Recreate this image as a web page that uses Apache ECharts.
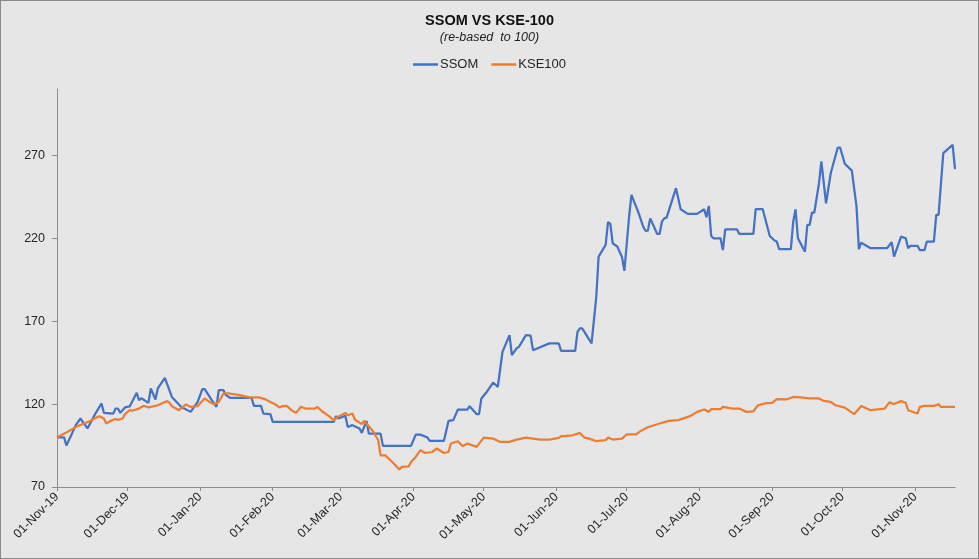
<!DOCTYPE html>
<html>
<head>
<meta charset="utf-8">
<script src="https://cdn.jsdelivr.net/npm/echarts@6/dist/echarts.min.js"></script>
<style>
  html, body { margin: 0; padding: 0; background: #E7E6E6; }
  #chart {
    width: 977px;
    height: 557px;
    border: 1px solid #8a8a8a;
    background: #E7E6E6;
  }
</style>
</head>
<body>
<div id="chart"></div>
<script>
// month-start ticks on the date axis
const monthTicks = [
  '2019-11-01', '2019-12-01', '2020-01-01', '2020-02-01', '2020-03-01', '2020-04-01', '2020-05-01',
  '2020-06-01', '2020-07-01', '2020-08-01', '2020-09-01', '2020-10-01', '2020-11-01'
];
const yTicks = [70, 120, 170, 220, 270];

const ssomDates = [
  '2019-11-01', '2019-11-04', '2019-11-05', '2019-11-07', '2019-11-09', '2019-11-11', '2019-11-14', '2019-11-17',
  '2019-11-20', '2019-11-21', '2019-11-25', '2019-11-26', '2019-11-27', '2019-11-28', '2019-11-30', '2019-12-02',
  '2019-12-05', '2019-12-06', '2019-12-07', '2019-12-10', '2019-12-11', '2019-12-13', '2019-12-14', '2019-12-17',
  '2019-12-20', '2019-12-24', '2019-12-28', '2019-12-31', '2020-01-02', '2020-01-03', '2020-01-06', '2020-01-08',
  '2020-01-09', '2020-01-11', '2020-01-12', '2020-01-14', '2020-01-23', '2020-01-24', '2020-01-27', '2020-01-28',
  '2020-01-31', '2020-02-01', '2020-02-27', '2020-02-28', '2020-02-29', '2020-03-03', '2020-03-04', '2020-03-06',
  '2020-03-09', '2020-03-10', '2020-03-12', '2020-03-13', '2020-03-18', '2020-03-19', '2020-03-31', '2020-04-02',
  '2020-04-04', '2020-04-07', '2020-04-08', '2020-04-14', '2020-04-16', '2020-04-18', '2020-04-20', '2020-04-24',
  '2020-04-25', '2020-04-28', '2020-04-29', '2020-04-30', '2020-05-02', '2020-05-05', '2020-05-07', '2020-05-09',
  '2020-05-12', '2020-05-13', '2020-05-15', '2020-05-16', '2020-05-19', '2020-05-21', '2020-05-22', '2020-05-29',
  '2020-06-02', '2020-06-03', '2020-06-09', '2020-06-10', '2020-06-11', '2020-06-12', '2020-06-16', '2020-06-18',
  '2020-06-19', '2020-06-22', '2020-06-23', '2020-06-24', '2020-06-25', '2020-06-27', '2020-06-29', '2020-06-30',
  '2020-07-02', '2020-07-03', '2020-07-06', '2020-07-08', '2020-07-09', '2020-07-10', '2020-07-11', '2020-07-14',
  '2020-07-15', '2020-07-16', '2020-07-17', '2020-07-18', '2020-07-22', '2020-07-24', '2020-07-27', '2020-07-31',
  '2020-08-03', '2020-08-04', '2020-08-05', '2020-08-06', '2020-08-07', '2020-08-10', '2020-08-11', '2020-08-12',
  '2020-08-17', '2020-08-18', '2020-08-24', '2020-08-25', '2020-08-28', '2020-08-31', '2020-09-02', '2020-09-03',
  '2020-09-04', '2020-09-09', '2020-09-10', '2020-09-11', '2020-09-12', '2020-09-15', '2020-09-16', '2020-09-17',
  '2020-09-18', '2020-09-19', '2020-09-21', '2020-09-22', '2020-09-24', '2020-09-26', '2020-09-29', '2020-09-30',
  '2020-10-02', '2020-10-05', '2020-10-07', '2020-10-08', '2020-10-09', '2020-10-13', '2020-10-20', '2020-10-22',
  '2020-10-23', '2020-10-26', '2020-10-28', '2020-10-29', '2020-10-30', '2020-11-02', '2020-11-03', '2020-11-05',
  '2020-11-06', '2020-11-09', '2020-11-10', '2020-11-11', '2020-11-13', '2020-11-17', '2020-11-18'
];
const ssomValues = [
  100, 100, 95, 101, 107.3, 111.3, 105.3, 113.3,
  120.4, 114.7, 114.3, 117.3, 117.3, 114.7, 118, 118.6,
  126.8, 122.4, 123.5, 120.7, 129.4, 122.8, 129.4, 135.8,
  124.3, 118.3, 115.3, 121.3, 129, 129, 122.4, 118.3,
  128.4, 128.4, 125.4, 123.7, 123.7, 118.9, 118.9, 114.3,
  113.9, 109.3, 109.3, 112.7, 111.3, 113, 106.2, 107.3,
  105.3, 102.6, 109.9, 102.2, 102.2, 94.8, 94.8, 101.6,
  101.6, 99.8, 97.8, 97.8, 109.9, 110.3, 116.7, 116.7,
  118.7, 113.9, 113.9, 123.4, 126.8, 133, 130.4, 151.5,
  161.6, 149.5, 153.6, 154.5, 161.6, 161.3, 152.5, 156.6,
  156.6, 152.1, 152.1, 163.6, 165.6, 165.6, 156.6, 184.7,
  208.9, 216, 229.7, 228.6, 217, 214.9, 208.5, 200.4,
  233, 246.2, 235.5, 227, 224.5, 224.6, 232, 222.6,
  222.6, 230, 232, 232.4, 250.2, 237.5, 234.7, 234.7,
  237.5, 232.7, 239.5, 221.4, 220, 220, 212.9, 225.4,
  225.4, 222.6, 222.6, 237.5, 237.5, 221.4, 218.6, 218,
  213.4, 213.4, 230, 237.5, 220, 211.9, 228, 228,
  235.5, 235.5, 253.2, 266.3, 241.1, 259.2, 274.7, 274.7,
  264.9, 260.8, 239.1, 213.4, 217.3, 214, 214, 217.6,
  208.9, 221, 220, 214, 215.4, 215.4, 212.9, 212.9,
  218, 218, 234.1, 234.1, 271.3, 276.3, 261.7
];

const kseDates = [
  '2019-11-01', '2019-11-05', '2019-11-09', '2019-11-13', '2019-11-15', '2019-11-17', '2019-11-19', '2019-11-21',
  '2019-11-22', '2019-11-24', '2019-11-26', '2019-11-27', '2019-11-29', '2019-11-30', '2019-12-02', '2019-12-03',
  '2019-12-06', '2019-12-08', '2019-12-10', '2019-12-12', '2019-12-14', '2019-12-18', '2019-12-19', '2019-12-20',
  '2019-12-23', '2019-12-26', '2019-12-28', '2019-12-31', '2020-01-03', '2020-01-05', '2020-01-07', '2020-01-09',
  '2020-01-11', '2020-01-13', '2020-01-18', '2020-01-22', '2020-01-26', '2020-01-29', '2020-01-31', '2020-02-02',
  '2020-02-04', '2020-02-05', '2020-02-07', '2020-02-09', '2020-02-11', '2020-02-13', '2020-02-15', '2020-02-19',
  '2020-02-20', '2020-02-22', '2020-02-25', '2020-02-27', '2020-02-29', '2020-03-03', '2020-03-04', '2020-03-06',
  '2020-03-07', '2020-03-10', '2020-03-11', '2020-03-15', '2020-03-17', '2020-03-18', '2020-03-20', '2020-03-23',
  '2020-03-26', '2020-03-27', '2020-03-30', '2020-03-31', '2020-04-02', '2020-04-04', '2020-04-06', '2020-04-09',
  '2020-04-11', '2020-04-14', '2020-04-16', '2020-04-17', '2020-04-20', '2020-04-22', '2020-04-24', '2020-04-28',
  '2020-05-01', '2020-05-05', '2020-05-08', '2020-05-12', '2020-05-15', '2020-05-19', '2020-05-25', '2020-05-29',
  '2020-06-02', '2020-06-03', '2020-06-08', '2020-06-11', '2020-06-13', '2020-06-15', '2020-06-18', '2020-06-22',
  '2020-06-23', '2020-06-25', '2020-06-29', '2020-07-01', '2020-07-05', '2020-07-07', '2020-07-10', '2020-07-15',
  '2020-07-19', '2020-07-23', '2020-07-28', '2020-07-31', '2020-08-03', '2020-08-05', '2020-08-06', '2020-08-10',
  '2020-08-11', '2020-08-15', '2020-08-18', '2020-08-21', '2020-08-24', '2020-08-26', '2020-08-29', '2020-09-01',
  '2020-09-03', '2020-09-07', '2020-09-10', '2020-09-13', '2020-09-17', '2020-09-21', '2020-09-23', '2020-09-26',
  '2020-09-28', '2020-10-02', '2020-10-06', '2020-10-09', '2020-10-13', '2020-10-19', '2020-10-21', '2020-10-23',
  '2020-10-26', '2020-10-28', '2020-10-29', '2020-11-02', '2020-11-03', '2020-11-05', '2020-11-09', '2020-11-11',
  '2020-11-12', '2020-11-18'
];
const kseValues = [
  100, 102.8, 106.2, 108.6, 109.7, 111.3, 112.7, 111.3,
  108.3, 110, 111, 110.5, 111.3, 114, 116.3, 116,
  117.3, 119, 118, 118.6, 119.3, 121.8, 120.8, 118.7,
  116.3, 119.8, 118.3, 118.8, 123.4, 121.3, 119.9, 121.3,
  126.4, 126.4, 125.4, 124, 124, 122.8, 121.3, 119.9,
  117.9, 118.7, 118.9, 116.3, 114.7, 118.3, 117.3, 117.3,
  118.3, 115.7, 112.7, 110.3, 112.3, 114.7, 113.3, 114.3,
  110.7, 107.9, 109.9, 103.2, 98.2, 89.1, 89.1, 85.1,
  80.5, 82.1, 82.4, 85.1, 88.1, 92.2, 90.5, 91.1,
  93.2, 90.5, 91.1, 96.2, 97.6, 94.6, 96.2, 94.2,
  99.8, 99.2, 97.2, 97.2, 98.6, 99.8, 98.6, 98.6,
  99.6, 100.6, 101.2, 102.6, 99.8, 99.2, 97.6, 98.2,
  99.8, 98.6, 99.2, 101.8, 101.8, 103.8, 106, 108.3,
  109.9, 110.3, 112.7, 115.3, 116.7, 115.3, 116.9, 116.9,
  118.3, 117.3, 117.3, 115.3, 115.6, 119.3, 120.4, 120.7,
  123, 122.8, 124.3, 124, 123.4, 123.4, 121.9, 121.3,
  119.3, 117.9, 113.9, 118.9, 116.3, 117.3, 121, 120,
  121.8, 120.8, 116.3, 114.3, 118.3, 118.9, 118.9, 119.9,
  118.3, 118.3
];

const MON = ['Jan', 'Feb', 'Mar', 'Apr', 'May', 'Jun', 'Jul', 'Aug', 'Sep', 'Oct', 'Nov', 'Dec'];
// dates -> local timestamps, x axis is a plain value axis over time
const toTime = (s) => {
  const p = s.split('-').map(Number);
  return new Date(p[0], p[1] - 1, p[2]).getTime();
};
const tickTimes = monthTicks.map(toTime);
const fmtDate = (v) => {
  const d = new Date(v);
  const dd = String(d.getDate()).padStart(2, '0');
  return dd + '-' + MON[d.getMonth()] + '-' + String(d.getFullYear()).slice(2);
};

const axisColor = '#8c8c8c';
const textColor = '#262626';
const font = 'Liberation Sans, Arial, sans-serif';

const option = {
  animation: false,
  backgroundColor: '#E7E6E6',
  color: ['#4472C4', '#ED7D31'],
  title: [
    {
      text: 'SSOM VS KSE-100',
      left: 'center',
      top: 7,
      textStyle: { fontFamily: font, fontSize: 14.5, fontWeight: 'bold', color: '#111' },
    },
    {
      text: '(re-based  to 100)',
      left: 'center',
      top: 25,
      textStyle: { fontFamily: font, fontSize: 12.5, fontStyle: 'italic', fontWeight: 'normal', color: '#222' },
    },
  ],
  legend: {
    top: 52,
    left: 'center',
    icon: 'rect',
    itemWidth: 25,
    itemHeight: 2.5,
    itemGap: 13,
    textStyle: { fontFamily: font, fontSize: 13, color: textColor, padding: [0, 0, 0, -3] },
    data: ['SSOM', 'KSE100'],
  },
  grid: {
    left: 56,
    right: 23,
    top: 88,
    bottom: 71,
    containLabel: false,
  },
  xAxis: {
    type: 'value',
    min: toTime('2019-11-01'),
    max: toTime('2020-11-18'),
    axisLine: { show: true, onZero: false, lineStyle: { color: axisColor, width: 1 } },
    axisTick: { show: true, length: 4, lineStyle: { color: axisColor }, customValues: tickTimes },
    splitLine: { show: false },
    axisLabel: {
      customValues: tickTimes,
      rotate: 45,
      margin: 8,
      fontFamily: font,
      fontSize: 12.5,
      color: textColor,
      formatter: fmtDate,
    },
  },
  yAxis: {
    type: 'value',
    min: 70,
    max: 310,
    axisLine: { show: true, lineStyle: { color: axisColor, width: 1 } },
    axisTick: { show: true, length: 5, lineStyle: { color: axisColor }, customValues: yTicks },
    splitLine: { show: false },
    axisLabel: {
      customValues: yTicks,
      margin: 12,
      fontFamily: font,
      fontSize: 12.5,
      color: textColor,
    },
  },
  series: [
    {
      name: 'SSOM',
      type: 'line',
      symbol: 'none',
      lineStyle: { width: 2.25 },
      data: ssomDates.map((d, i) => [toTime(d), ssomValues[i]]),
    },
    {
      name: 'KSE100',
      type: 'line',
      symbol: 'none',
      lineStyle: { width: 2.25 },
      data: kseDates.map((d, i) => [toTime(d), kseValues[i]]),
    },
  ],
};

const myChart = echarts.init(document.getElementById('chart'));
option && myChart.setOption(option);
</script>
</body>
</html>
